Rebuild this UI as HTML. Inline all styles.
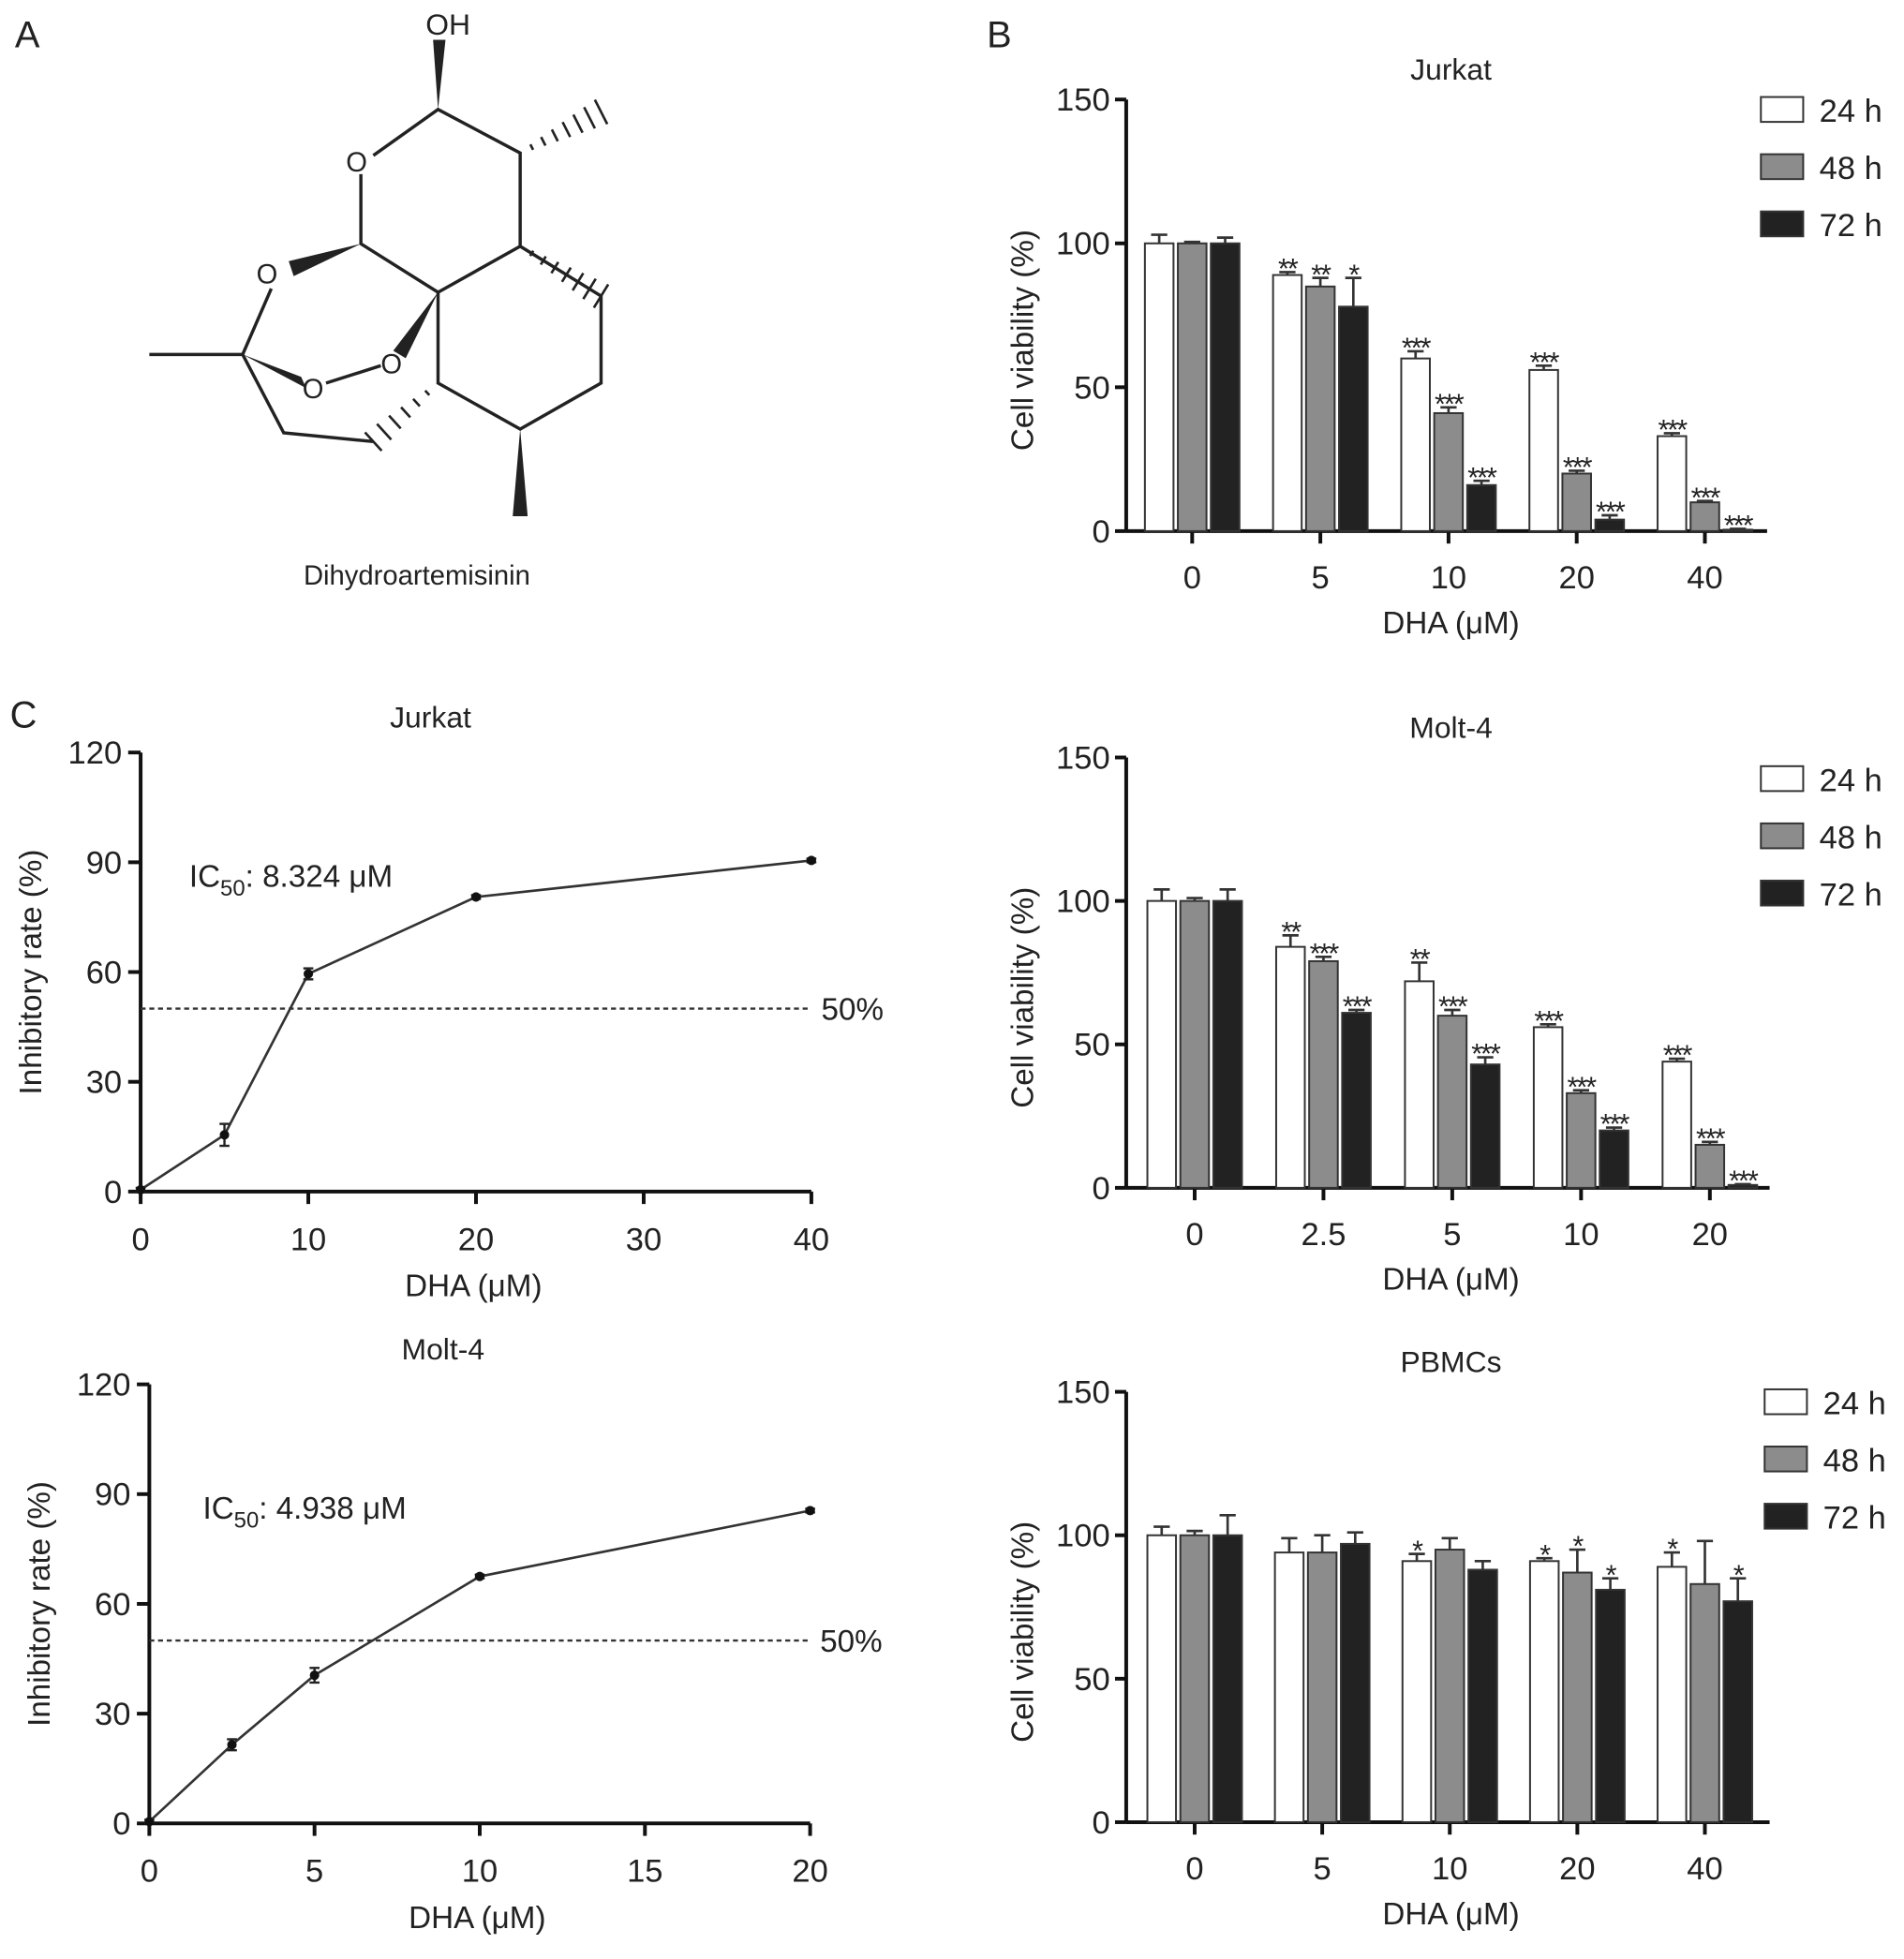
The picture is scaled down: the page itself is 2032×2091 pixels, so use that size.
<!DOCTYPE html>
<html><head><meta charset="utf-8"><style>
html,body{margin:0;padding:0;background:#fff}
svg{display:block}
text{font-family:"Liberation Sans",Arial,sans-serif;fill:#222}
</style></head><body>
<svg id="fig" width="2032" height="2091" viewBox="0 0 1530 1575" preserveAspectRatio="none" xmlns="http://www.w3.org/2000/svg">
<g id="struct" stroke="#222" stroke-width="2.6" fill="none">
<text x="12" y="38" font-size="30" stroke="none">A</text>
<text x="793" y="38" font-size="30" stroke="none">B</text>
<text x="8" y="585" font-size="30" stroke="none">C</text>
<text x="342" y="28" font-size="24" stroke="none">OH</text>
<polygon points="352,88 348,32 358,32" fill="#222" stroke="none"/>
<polyline points="300,125 352,88 418,123 418,198 352,235 290,196 290,140"/>
<text x="278" y="138" font-size="22" stroke="none">O</text>
<polyline points="418,198 483,238 483,308 418,345 352,308 352,235"/>
<polygon points="290,196 232,210 236,222" fill="#222" stroke="none"/>
<text x="206" y="228" font-size="22" stroke="none">O</text>
<polygon points="352,235 316,282 326,288" fill="#222" stroke="none"/>
<text x="306" y="300" font-size="22" stroke="none">O</text>
<text x="243" y="320" font-size="22" stroke="none">O</text>
<polygon points="195,285 242,303 246,312" fill="#222" stroke="none"/>
<line x1="262" y1="308" x2="306" y2="294"/>
<line x1="120" y1="285" x2="195" y2="285"/>
<line x1="195" y1="285" x2="218" y2="232"/>
<polyline points="195,285 228,348 300,355"/>
<polygon points="418,345 412,415 424,415" fill="#222" stroke="none"/>
<text x="335" y="470" font-size="22" text-anchor="middle" stroke="none">Dihydroartemisinin</text>
</g>
<g id="charts"></g>
</svg>
<script>
// ---- Bar chart data ----
const jurkatCats=["0","5","10","20","40"];
const jurkat24=[100,89,60,56,33];
const jurkat48=[100,85,41,20,10];
const jurkat72=[100,78,16,4,0.5];
const jurkatErr24=[3,1,2.5,1.5,1];
const jurkatErr48=[0.5,3,2,1,0.5];
const jurkatErr72=[2,10,1.5,1.5,0.3];
const jurkatSig24=["","**","***","***","***"];
const jurkatSig48=["","**","***","***","***"];
const jurkatSig72=["","*","***","***","***"];

const moltCats=["0","2.5","5","10","20"];
const molt24=[100,84,72,56,44];
const molt48=[100,79,60,33,15];
const molt72=[100,61,43,20,1];
const moltErr24=[4,4,6.5,1,1];
const moltErr48=[1,1.5,2,1,1];
const moltErr72=[4,1,2.5,1,0.3];
const moltSig24=["","**","**","***","***"];
const moltSig48=["","***","***","***","***"];
const moltSig72=["","***","***","***","***"];

const pbmcCats=["0","5","10","20","40"];
const pbmc24=[100,94,91,91,89];
const pbmc48=[100,94,95,87,83];
const pbmc72=[100,97,88,81,77];
const pbmcErr24=[3,5,2.5,1,5];
const pbmcErr48=[1.5,6,4,8,15];
const pbmcErr72=[7,4,3,4,8];
const pbmcSig24=["","","*","*","*"];
const pbmcSig48=["","","","*",""];
const pbmcSig72=["","","","*","*"];

const barTicks=[0,50,100,150];
const seriesNames=["24 h","48 h","72 h"];

// ---- Line chart data ----
const icJurkatX=[0,5,10,20,40];
const icJurkatY=[0.5,15.5,59.5,80.5,90.5];
const icJurkatErr=[0.5,3,1.5,0.5,0.5];
const icJurkatXTicks=[0,10,20,30,40];
const icMoltX=[0,2.5,5,10,20];
const icMoltY=[0.5,21.5,40.5,67.5,85.5];
const icMoltErr=[0.5,1.5,2,0.5,0.5];
const icMoltXTicks=[0,5,10,15,20];
const icYTicks=[0,30,60,90,120];

const NS="http://www.w3.org/2000/svg";
const root=document.getElementById('charts');
function mk(tag,attrs,parent,txt){const e=document.createElementNS(NS,tag);for(const k in attrs)e.setAttribute(k,attrs[k]);if(txt!==undefined)e.textContent=txt;(parent||root).appendChild(e);return e;}

// hashed wedge bonds (structure drawing)
const st=document.getElementById('struct');
function hash(x1,y1,x2,y2,n,w){
  const dx=x2-x1,dy=y2-y1,L=Math.hypot(dx,dy),px=-dy/L,py=dx/L;
  for(let i=1;i<=n;i++){const t=i/n,cx=x1+dx*t,cy=y1+dy*t,h=1+w*t;
    mk('line',{x1:cx-px*h,y1:cy-py*h,x2:cx+px*h,y2:cy+py*h,'stroke-width':2},st);}
}
hash(418,123,483,90,7,10);
hash(418,198,483,238,7,10);
hash(352,308,300,355,6,9);

function barChart(name,title,cats,vals,errs,sigs,L){
  const g=mk('g',{});
  
  
  const ys=v=>L.y0-(v/150)*(L.y0-L.yTop);
  const t=mk('text',{x:L.titleX,y:L.yTop-16,'font-size':24,'text-anchor':'middle'},g,title);
  
  
  mk('line',{x1:L.ax,y1:L.yTop,x2:L.ax,y2:L.y0,stroke:'#111','stroke-width':3},g);
  mk('line',{x1:L.ax,y1:L.y0,x2:L.xEnd,y2:L.y0,stroke:'#111','stroke-width':3},g);
  barTicks.forEach(v=>{
    mk('line',{x1:L.ax-9,y1:ys(v),x2:L.ax,y2:ys(v),stroke:'#111','stroke-width':3},g);
    const tl=mk('text',{x:L.ax-13,y:ys(v)+9,'font-size':26,'text-anchor':'end'},g,String(v));
    
    
  });
  const yl=mk('text',{transform:`translate(${L.ax-75},${(L.yTop+L.y0)/2+20}) rotate(-90)`,'font-size':25,'text-anchor':'middle'},g,'Cell viability (%)');
  
  
  const fills=['#fff','#8c8c8c','#222'];
  cats.forEach((c,i)=>{
    const cx=L.g0+i*L.gs;
    mk('line',{x1:cx,y1:L.y0,x2:cx,y2:L.y0+10,stroke:'#111','stroke-width':3},g);
    const xl=mk('text',{x:cx,y:L.y0+46,'font-size':26,'text-anchor':'middle'},g,c);
    
    
    for(let s=0;s<3;s++){
      const bx=cx+(s-1)*26.5-11.5, v=vals[s][i], e=errs[s][i];
      const r=mk('rect',{x:bx,y:ys(v),width:23,height:L.y0-ys(v),fill:fills[s],stroke:'#333','stroke-width':1.5},g);
      
      
      const ey=ys(v+e);
      mk('line',{x1:bx+11.5,y1:ys(v),x2:bx+11.5,y2:ey,stroke:'#333','stroke-width':2},g);
      mk('line',{x1:bx+5,y1:ey,x2:bx+18,y2:ey,stroke:'#333','stroke-width':2},g);
      if(sigs[s][i]){
        const sm=mk('text',{x:bx+11.5,y:ey+5,'font-size':23,'text-anchor':'middle','letter-spacing':'-1.5'},g,sigs[s][i]);
        
        
      }
    }
  });
  const xt=mk('text',{x:L.titleX,y:L.y0+82,'font-size':25,'text-anchor':'middle'},g,'DHA (\u03bcM)');
  
  
  seriesNames.forEach((n,s)=>{
    const ly=L.legY+s*46;
    const lr=mk('rect',{x:L.legX,y:ly-10,width:34,height:20,fill:fills[s],stroke:'#333','stroke-width':1.5},g);
    
    
    const lt=mk('text',{x:L.legX+47,y:ly+10,'font-size':26},g,n);
    
    
  });
}
barChart('bar-chart-jurkat','Jurkat',jurkatCats,[jurkat24,jurkat48,jurkat72],[jurkatErr24,jurkatErr48,jurkatErr72],[jurkatSig24,jurkatSig48,jurkatSig72],
 {ax:905,yTop:80,y0:427,xEnd:1420,g0:958,gs:103,titleX:1166,legX:1415,legY:88});
barChart('bar-chart-molt4','Molt-4',moltCats,[molt24,molt48,molt72],[moltErr24,moltErr48,moltErr72],[moltSig24,moltSig48,moltSig72],
 {ax:905,yTop:609,y0:955,xEnd:1422,g0:960,gs:103.5,titleX:1166,legX:1415,legY:626});
barChart('bar-chart-pbmcs','PBMCs',pbmcCats,[pbmc24,pbmc48,pbmc72],[pbmcErr24,pbmcErr48,pbmcErr72],[pbmcSig24,pbmcSig48,pbmcSig72],
 {ax:905,yTop:1119,y0:1465,xEnd:1422,g0:960,gs:102.5,titleX:1166,legX:1418,legY:1127});

function lineChart(name,title,xs,ys,errs,xticks,xmax,ic,L){
  const g=mk('g',{});
  
  
  const sx=v=>L.ax+(v/xmax)*(L.xEnd-L.ax);
  const sy=v=>L.y0-(v/120)*(L.y0-L.yTop);
  const t=mk('text',{x:L.titleX,y:L.yTop-20,'font-size':24,'text-anchor':'middle'},g,title);
  
  
  mk('line',{x1:L.ax,y1:L.yTop,x2:L.ax,y2:L.y0,stroke:'#111','stroke-width':3},g);
  mk('line',{x1:L.ax,y1:L.y0,x2:L.xEnd,y2:L.y0,stroke:'#111','stroke-width':3},g);
  icYTicks.forEach(v=>{
    mk('line',{x1:L.ax-10,y1:sy(v),x2:L.ax,y2:sy(v),stroke:'#111','stroke-width':3},g);
    const tl=mk('text',{x:L.ax-15,y:sy(v)+9,'font-size':26,'text-anchor':'end'},g,String(v));
    
    
  });
  xticks.forEach(v=>{
    mk('line',{x1:sx(v),y1:L.y0,x2:sx(v),y2:L.y0+10,stroke:'#111','stroke-width':3},g);
    const tl=mk('text',{x:sx(v),y:L.y0+47,'font-size':26,'text-anchor':'middle'},g,String(v));
    
    
  });
  const yl=mk('text',{transform:`translate(${L.ax-80},${(L.yTop+L.y0)/2}) rotate(-90)`,'font-size':25,'text-anchor':'middle'},g,'Inhibitory rate (%)');
  
  
  const xt=mk('text',{x:(L.ax+L.xEnd)/2-2,y:L.y0+84,'font-size':25,'text-anchor':'middle'},g,'DHA (\u03bcM)');
  
  
  const dl=mk('line',{x1:L.ax,y1:sy(50),x2:L.xEnd,y2:sy(50),stroke:'#333','stroke-width':1.8,'stroke-dasharray':'4,3'},g);
  
  
  mk('text',{x:L.xEnd+8,y:sy(50)+9,'font-size':25},g,'50%');
  const ict=mk('text',{x:L.icX,y:sy(L.icY)+8,'font-size':25},g);
  
  
  ict.innerHTML='IC<tspan font-size="18" dy="7">50</tspan><tspan dy="-7">: '+ic+' \u03bcM</tspan>';
  const pts=xs.map((x,i)=>sx(x)+','+sy(ys[i])).join(' ');
  const pl=mk('polyline',{points:pts,fill:'none',stroke:'#333','stroke-width':2},g);
  
  
  xs.forEach((x,i)=>{
    const cx=sx(x),e=errs[i];
    mk('line',{x1:cx,y1:sy(ys[i]+e),x2:cx,y2:sy(ys[i]-e),stroke:'#222','stroke-width':1.8},g);
    mk('line',{x1:cx-4,y1:sy(ys[i]+e),x2:cx+4,y2:sy(ys[i]+e),stroke:'#222','stroke-width':1.8},g);
    mk('line',{x1:cx-4,y1:sy(ys[i]-e),x2:cx+4,y2:sy(ys[i]-e),stroke:'#222','stroke-width':1.8},g);
    const c=mk('circle',{cx:cx,cy:sy(ys[i]),r:3.8,fill:'#111'},g);
    
    
  });
}
lineChart('line-chart-jurkat-ic50','Jurkat',icJurkatX,icJurkatY,icJurkatErr,icJurkatXTicks,40,'8.324',
 {ax:113,xEnd:652,yTop:605,y0:958,titleX:346,icX:152,icY:86});
lineChart('line-chart-molt4-ic50','Molt-4',icMoltX,icMoltY,icMoltErr,icMoltXTicks,20,'4.938',
 {ax:120,xEnd:651,yTop:1113,y0:1466,titleX:356,icX:163,icY:86});
</script>
</body></html>
